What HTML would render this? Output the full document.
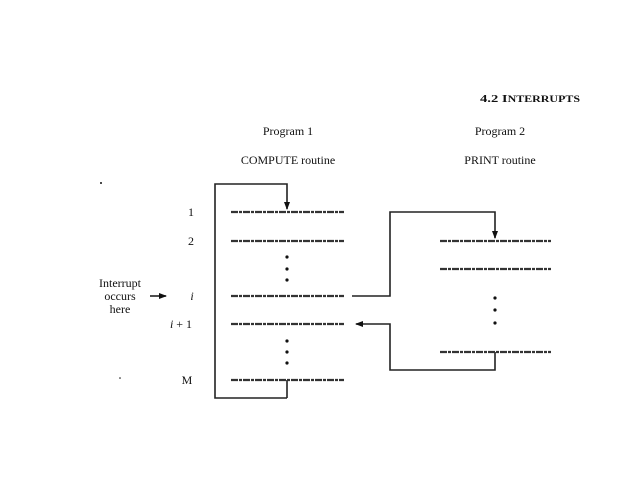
<!DOCTYPE html>
<html><head><style>
body{margin:0;background:#fff;}
svg{display:block;}
text{font-family:"Liberation Serif",serif;fill:#111;}
</style></head><body>
<svg width="638" height="478" viewBox="0 0 638 478">
<defs><marker id="a" markerWidth="8" markerHeight="8" refX="7" refY="4" orient="auto" markerUnits="userSpaceOnUse"><path d="M0,1 L8,4 L0,7 z" fill="#111"/></marker></defs>
<text x="480" y="102" font-size="11" font-weight="bold" textLength="100" lengthAdjust="spacingAndGlyphs">4.2  I<tspan font-size="9">NTERRUPTS</tspan></text>
<text x="288" y="135" font-size="12" text-anchor="middle">Program 1</text>
<text x="288" y="164" font-size="12" text-anchor="middle">COMPUTE routine</text>
<text x="500" y="135" font-size="12" text-anchor="middle">Program 2</text>
<text x="500" y="164" font-size="12" text-anchor="middle">PRINT routine</text>
<g stroke="#222" stroke-width="1.6" fill="none">
<path d="M287,398 V380 M287,398 H215 V184 H287 V209" marker-end="url(#a)"/>
<path d="M352,296 H390 V212 H495 V238" marker-end="url(#a)"/>
<path d="M495,352 V370 H390 V324 H356" marker-end="url(#a)"/>
<path d="M150,296 H166" marker-end="url(#a)"/>
</g>
<g stroke="#333" stroke-width="2.2" stroke-dasharray="7,1,3,1">
<line x1="231" y1="212" x2="344" y2="212"/>
<line x1="231" y1="241" x2="344" y2="241"/>
<line x1="231" y1="296" x2="344" y2="296"/>
<line x1="231" y1="324" x2="344" y2="324"/>
<line x1="231" y1="380" x2="344" y2="380"/>
<line x1="440" y1="241" x2="551" y2="241"/>
<line x1="440" y1="269" x2="551" y2="269"/>
<line x1="440" y1="352" x2="551" y2="352"/>
</g>
<g fill="#111">
<circle cx="287" cy="257" r="1.6"/><circle cx="287" cy="269" r="1.6"/><circle cx="287" cy="280" r="1.6"/>
<circle cx="287" cy="341" r="1.6"/><circle cx="287" cy="352" r="1.6"/><circle cx="287" cy="363" r="1.6"/>
<circle cx="495" cy="298" r="1.6"/><circle cx="495" cy="310" r="1.6"/><circle cx="495" cy="323" r="1.6"/>
<circle cx="101" cy="183" r="1"/><circle cx="120" cy="378" r="0.8"/>
</g>
<text x="191" y="216" font-size="12" text-anchor="middle">1</text>
<text x="191" y="245" font-size="12" text-anchor="middle">2</text>
<text x="192" y="300" font-size="12" font-style="italic" text-anchor="middle">i</text>
<text x="181" y="328" font-size="12" text-anchor="middle"><tspan font-style="italic">i</tspan> + 1</text>
<text x="187" y="384" font-size="12" text-anchor="middle">M</text>
<text x="120" y="287" font-size="12" text-anchor="middle">Interrupt</text>
<text x="120" y="300" font-size="12" text-anchor="middle">occurs</text>
<text x="120" y="313" font-size="12" text-anchor="middle">here</text>
</svg>
</body></html>
